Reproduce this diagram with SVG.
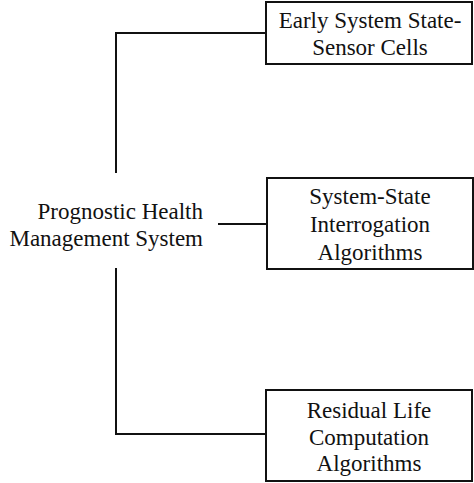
<svg xmlns="http://www.w3.org/2000/svg" width="474" height="483" viewBox="0 0 474 483">
<style>
.box{fill:#fff;stroke:#111;stroke-width:2}
.ln{fill:none;stroke:#111;stroke-width:2}
text{font-family:"Liberation Serif","Times New Roman",serif;font-size:23px;fill:#111}
.c{text-anchor:middle}
.r{text-anchor:end}
</style>
<rect width="474" height="483" fill="#fff"/>
<g id="connectors">
<polyline class="ln" points="266,33 116,33 116,173"/>
<line class="ln" x1="218" y1="224" x2="267" y2="224"/>
<polyline class="ln" points="116,268 116,434 266,434"/>
</g>
<g id="phm">
<text class="r" x="203" y="219">Prognostic Health</text>
<text class="r" x="203" y="246">Management System</text>
</g>
<g id="sensor">
<rect class="box" x="266" y="2" width="206" height="62"/>
<text class="c" x="370" y="28">Early System State-</text>
<text class="c" x="370" y="55">Sensor Cells</text>
</g>
<g id="interrogation">
<rect class="box" x="267" y="178" width="206" height="91"/>
<text class="c" x="370" y="204">System-State</text>
<text class="c" x="370" y="232">Interrogation</text>
<text class="c" x="370" y="260">Algorithms</text>
</g>
<g id="residual">
<rect class="box" x="266" y="390" width="206" height="91"/>
<text class="c" x="369" y="418">Residual Life</text>
<text class="c" x="369" y="445">Computation</text>
<text class="c" x="369" y="471">Algorithms</text>
</g>
</svg>
